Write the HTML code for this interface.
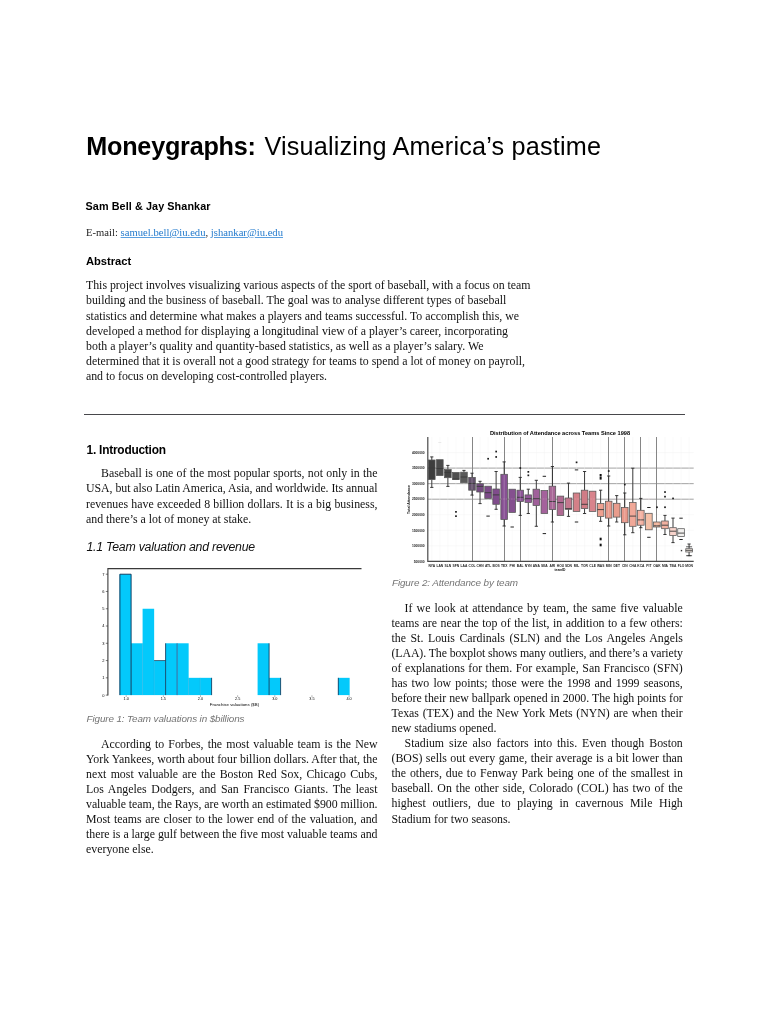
<!DOCTYPE html>
<html lang="en"><head><meta charset="utf-8"><title>Moneygraphs: Visualizing America’s pastime</title>
<style>
html,body{margin:0;padding:0;background:#fff;}
body{width:770px;height:1024px;position:relative;overflow:hidden;}
.t{position:absolute;white-space:nowrap;margin:0;padding:0;}
.s{font-family:"Liberation Serif",serif;}
.n{font-family:"Liberation Sans",sans-serif;}
.lk{color:#1f78cc;text-decoration:underline;text-decoration-color:#5a9fe0;text-decoration-thickness:1px;text-underline-offset:1.2px;}
#rule{position:absolute;left:84px;top:414px;width:601px;height:1px;background:#47474b;}
svg{position:absolute;left:0;top:0;}
svg text{font-family:"Liberation Sans",sans-serif;}
</style></head><body>
<div class="t n" style="left:86.30px;top:130px;font-size:25.2px;line-height:32px;color:#000;font-weight:bold;letter-spacing:-0.2310px;">Moneygraphs:</div>
<div class="t n" style="left:264.40px;top:130px;font-size:25.2px;line-height:32px;color:#000;letter-spacing:0.2050px;">Visualizing America’s pastime</div>
<div class="t n" style="left:85.50px;top:199px;font-size:10.8px;line-height:14px;color:#000;font-weight:bold;letter-spacing:0.0938px;">Sam Bell &amp; Jay Shankar</div>
<div class="t s" style="left:86.00px;top:226px;font-size:10.6px;line-height:14px;color:#222;letter-spacing:0.0227px;">E-mail: <span class="lk">samuel.bell@iu.edu</span>, <span class="lk">jshankar@iu.edu</span></div>
<div class="t n" style="left:86.00px;top:254px;font-size:11.2px;line-height:14px;color:#000;font-weight:bold;letter-spacing:-0.0272px;">Abstract</div>
<div class="t s" style="left:86.00px;top:278px;font-size:11.85px;line-height:15px;color:#111;letter-spacing:-0.0160px;">This project involves visualizing various aspects of the sport of baseball, with a focus on team</div>
<div class="t s" style="left:86.00px;top:293px;font-size:11.85px;line-height:15px;color:#111;letter-spacing:0.0006px;">building and the business of baseball. The goal was to analyse different types of baseball</div>
<div class="t s" style="left:86.00px;top:309px;font-size:11.85px;line-height:15px;color:#111;letter-spacing:0.0025px;">statistics and determine what makes a players and teams successful. To accomplish this, we</div>
<div class="t s" style="left:86.00px;top:324px;font-size:11.85px;line-height:15px;color:#111;letter-spacing:0.0009px;">developed a method for displaying a longitudinal view of a player’s career, incorporating</div>
<div class="t s" style="left:86.00px;top:339px;font-size:11.85px;line-height:15px;color:#111;letter-spacing:0.0258px;">both a player’s quality and quantity-based statistics, as well as a player’s salary. We</div>
<div class="t s" style="left:86.00px;top:354px;font-size:11.85px;line-height:15px;color:#111;letter-spacing:-0.0081px;">determined that it is overall not a good strategy for teams to spend a lot of money on payroll,</div>
<div class="t s" style="left:86.00px;top:369px;font-size:11.85px;line-height:15px;color:#111;letter-spacing:-0.0281px;">and to focus on developing cost-controlled players.</div>
<div class="t n" style="left:86.50px;top:443px;font-size:11.9px;line-height:15px;color:#000;font-weight:bold;letter-spacing:-0.2199px;">1. Introduction</div>
<div class="t s" style="left:101.00px;top:466px;font-size:11.85px;line-height:15px;color:#111;word-spacing:0.315px;">Baseball is one of the most popular sports, not only in the</div>
<div class="t s" style="left:86.00px;top:481px;font-size:11.85px;line-height:15px;color:#111;letter-spacing:-0.0379px;">USA, but also Latin America, Asia, and worldwide. Its annual</div>
<div class="t s" style="left:86.00px;top:497px;font-size:11.85px;line-height:15px;color:#111;word-spacing:0.272px;">revenues have exceeded 8 billion dollars. It is a big business,</div>
<div class="t s" style="left:86.00px;top:512px;font-size:11.85px;line-height:15px;color:#111;">and there’s a lot of money at stake.</div>
<div class="t n" style="left:86.50px;top:539px;font-size:12.3px;line-height:16px;color:#111;font-style:italic;letter-spacing:-0.2293px;">1.1 Team valuation and revenue</div>
<div class="t n" style="left:86.50px;top:712px;font-size:9.9px;line-height:13px;color:#747474;font-style:italic;letter-spacing:-0.1115px;">Figure 1: Team valuations in $billions</div>
<div class="t s" style="left:101.00px;top:737px;font-size:11.85px;line-height:15px;color:#111;word-spacing:1.120px;">According to Forbes, the most valuable team is the New</div>
<div class="t s" style="left:86.00px;top:752px;font-size:11.85px;line-height:15px;color:#111;word-spacing:0.028px;">York Yankees, worth about four billion dollars. After that, the</div>
<div class="t s" style="left:86.00px;top:767px;font-size:11.85px;line-height:15px;color:#111;word-spacing:1.285px;">next most valuable are the Boston Red Sox, Chicago Cubs,</div>
<div class="t s" style="left:86.00px;top:782px;font-size:11.85px;line-height:15px;color:#111;word-spacing:1.762px;">Los Angeles Dodgers, and San Francisco Giants. The least</div>
<div class="t s" style="left:86.00px;top:797px;font-size:11.85px;line-height:15px;color:#111;letter-spacing:-0.0315px;">valuable team, the Rays, are worth an estimated $900 million.</div>
<div class="t s" style="left:86.00px;top:812px;font-size:11.85px;line-height:15px;color:#111;word-spacing:0.726px;">Most teams are closer to the lower end of the valuation, and</div>
<div class="t s" style="left:86.00px;top:827px;font-size:11.85px;line-height:15px;color:#111;letter-spacing:-0.0108px;">there is a large gulf between the five most valuable teams and</div>
<div class="t s" style="left:86.00px;top:842px;font-size:11.85px;line-height:15px;color:#111;">everyone else.</div>
<div class="t n" style="left:392.00px;top:576px;font-size:9.9px;line-height:13px;color:#747474;font-style:italic;letter-spacing:-0.1181px;">Figure 2: Attendance by team</div>
<div class="t s" style="left:404.60px;top:601px;font-size:11.85px;line-height:15px;color:#111;word-spacing:1.150px;">If we look at attendance by team, the same five valuable</div>
<div class="t s" style="left:391.50px;top:616px;font-size:11.85px;line-height:15px;color:#111;word-spacing:0.498px;">teams are near the top of the list, in addition to a few others:</div>
<div class="t s" style="left:391.50px;top:631px;font-size:11.85px;line-height:15px;color:#111;word-spacing:1.591px;">the St. Louis Cardinals (SLN) and the Los Angeles Angels</div>
<div class="t s" style="left:391.50px;top:646px;font-size:11.85px;line-height:15px;color:#111;letter-spacing:-0.1026px;">(LAA). The boxplot shows many outliers, and there’s a variety</div>
<div class="t s" style="left:391.50px;top:661px;font-size:11.85px;line-height:15px;color:#111;word-spacing:0.559px;">of explanations for them. For example, San Francisco (SFN)</div>
<div class="t s" style="left:391.50px;top:676px;font-size:11.85px;line-height:15px;color:#111;word-spacing:1.202px;">has two low points; those were the 1998 and 1999 seasons,</div>
<div class="t s" style="left:391.50px;top:691px;font-size:11.85px;line-height:15px;color:#111;letter-spacing:-0.0148px;">before their new ballpark opened in 2000. The high points for</div>
<div class="t s" style="left:391.50px;top:706px;font-size:11.85px;line-height:15px;color:#111;word-spacing:0.763px;">Texas (TEX) and the New York Mets (NYN) are when their</div>
<div class="t s" style="left:391.50px;top:721px;font-size:11.85px;line-height:15px;color:#111;">new stadiums opened.</div>
<div class="t s" style="left:404.60px;top:736px;font-size:11.85px;line-height:15px;color:#111;word-spacing:2.002px;">Stadium size also factors into this. Even though Boston</div>
<div class="t s" style="left:391.50px;top:751px;font-size:11.85px;line-height:15px;color:#111;word-spacing:0.469px;">(BOS) sells out every game, their average is a bit lower than</div>
<div class="t s" style="left:391.50px;top:766px;font-size:11.85px;line-height:15px;color:#111;word-spacing:1.005px;">the others, due to Fenway Park being one of the smallest in</div>
<div class="t s" style="left:391.50px;top:781px;font-size:11.85px;line-height:15px;color:#111;word-spacing:1.105px;">baseball. On the other side, Colorado (COL) has two of the</div>
<div class="t s" style="left:391.50px;top:796px;font-size:11.85px;line-height:15px;color:#111;word-spacing:3.723px;">highest outliers, due to playing in cavernous Mile High</div>
<div class="t s" style="left:391.50px;top:812px;font-size:11.85px;line-height:15px;color:#111;">Stadium for two seasons.</div>
<div id="rule"></div>
<svg width="770" height="1024" viewBox="0 0 770 1024">
<g id="hist">
<rect x="119.60" y="574.21" width="11.55" height="120.89" fill="#03c9fb"/>
<rect x="131.10" y="643.29" width="11.55" height="51.81" fill="#03c9fb"/>
<rect x="142.60" y="608.75" width="11.55" height="86.35" fill="#03c9fb"/>
<rect x="154.10" y="660.56" width="11.55" height="34.54" fill="#03c9fb"/>
<rect x="165.60" y="643.29" width="11.55" height="51.81" fill="#03c9fb"/>
<rect x="177.10" y="643.29" width="11.55" height="51.81" fill="#03c9fb"/>
<rect x="188.60" y="677.83" width="11.55" height="17.27" fill="#03c9fb"/>
<rect x="200.10" y="677.83" width="11.55" height="17.27" fill="#03c9fb"/>
<rect x="257.60" y="643.29" width="11.55" height="51.81" fill="#03c9fb"/>
<rect x="269.10" y="677.83" width="11.55" height="17.27" fill="#03c9fb"/>
<rect x="338.10" y="677.83" width="11.55" height="17.27" fill="#03c9fb"/>
<path d="M142.60 643.29V695.1" stroke="#2a9fd0" stroke-width="0.5" opacity="0.7"/>
<path d="M154.10 660.56V695.1" stroke="#2a9fd0" stroke-width="0.5" opacity="0.7"/>
<path d="M188.60 677.83V695.1" stroke="#2a9fd0" stroke-width="0.5" opacity="0.7"/>
<path d="M200.10 677.83V695.1" stroke="#2a9fd0" stroke-width="0.5" opacity="0.7"/>
<path d="M119.90 695.1V574.21H131.10V695.1" fill="none" stroke="#0b2f52" stroke-width="0.9"/>
<path d="M154.10 660.56H165.60" stroke="#3a5a70" stroke-width="0.9"/>
<path d="M165.60 643.29V695.1" stroke="#0b2f52" stroke-width="0.8"/>
<path d="M177.10 643.29V695.1" stroke="#3f5f96" stroke-width="0.9"/>
<path d="M211.60 677.83V695.1" stroke="#0b2f52" stroke-width="0.8"/>
<path d="M269.10 643.29V695.1" stroke="#0b2f52" stroke-width="0.8"/>
<path d="M280.60 677.83V695.1" stroke="#0b2f52" stroke-width="0.8"/>
<path d="M338.30 677.83V695.1" stroke="#0b2f52" stroke-width="0.8"/>
<path d="M107.9 695.4V568.6H361.5" fill="none" stroke="#3a3a3a" stroke-width="1.1"/>
<path d="M105.8 695.10h2" stroke="#222" stroke-width="0.6"/>
<text x="104.4" y="696.50" font-size="4" text-anchor="end" fill="#000">0</text>
<path d="M105.8 677.83h2" stroke="#222" stroke-width="0.6"/>
<text x="104.4" y="679.23" font-size="4" text-anchor="end" fill="#000">1</text>
<path d="M105.8 660.56h2" stroke="#222" stroke-width="0.6"/>
<text x="104.4" y="661.96" font-size="4" text-anchor="end" fill="#000">2</text>
<path d="M105.8 643.29h2" stroke="#222" stroke-width="0.6"/>
<text x="104.4" y="644.69" font-size="4" text-anchor="end" fill="#000">3</text>
<path d="M105.8 626.02h2" stroke="#222" stroke-width="0.6"/>
<text x="104.4" y="627.42" font-size="4" text-anchor="end" fill="#000">4</text>
<path d="M105.8 608.75h2" stroke="#222" stroke-width="0.6"/>
<text x="104.4" y="610.15" font-size="4" text-anchor="end" fill="#000">5</text>
<path d="M105.8 591.48h2" stroke="#222" stroke-width="0.6"/>
<text x="104.4" y="592.88" font-size="4" text-anchor="end" fill="#000">6</text>
<path d="M105.8 574.21h2" stroke="#222" stroke-width="0.6"/>
<text x="104.4" y="575.61" font-size="4" text-anchor="end" fill="#000">7</text>
<path d="M126.20 695.4v1.4" stroke="#444" stroke-width="0.5"/>
<text x="126.20" y="700.4" font-size="3.8" text-anchor="middle" fill="#000">1.0</text>
<path d="M163.35 695.4v1.4" stroke="#444" stroke-width="0.5"/>
<text x="163.35" y="700.4" font-size="3.8" text-anchor="middle" fill="#000">1.5</text>
<path d="M200.50 695.4v1.4" stroke="#444" stroke-width="0.5"/>
<text x="200.50" y="700.4" font-size="3.8" text-anchor="middle" fill="#000">2.0</text>
<path d="M237.65 695.4v1.4" stroke="#444" stroke-width="0.5"/>
<text x="237.65" y="700.4" font-size="3.8" text-anchor="middle" fill="#000">2.5</text>
<path d="M274.80 695.4v1.4" stroke="#444" stroke-width="0.5"/>
<text x="274.80" y="700.4" font-size="3.8" text-anchor="middle" fill="#000">3.0</text>
<path d="M311.95 695.4v1.4" stroke="#444" stroke-width="0.5"/>
<text x="311.95" y="700.4" font-size="3.8" text-anchor="middle" fill="#000">3.5</text>
<path d="M349.10 695.4v1.4" stroke="#444" stroke-width="0.5"/>
<text x="349.10" y="700.4" font-size="3.8" text-anchor="middle" fill="#000">4.0</text>
<text x="234.5" y="706.3" font-size="4.35" text-anchor="middle" fill="#000">Franchise valuations ($B)</text>
</g>
<g id="boxp">
<path d="M427.8 545.85H693.7" stroke="#f0f0f0" stroke-width="0.4"/>
<path d="M427.8 530.30H693.7" stroke="#f0f0f0" stroke-width="0.4"/>
<path d="M427.8 514.75H693.7" stroke="#f0f0f0" stroke-width="0.4"/>
<path d="M427.8 499.20H693.7" stroke="#999" stroke-width="0.9"/>
<path d="M427.8 483.65H693.7" stroke="#999" stroke-width="0.9"/>
<path d="M427.8 468.10H693.7" stroke="#999" stroke-width="0.9"/>
<path d="M427.8 452.55H693.7" stroke="#f0f0f0" stroke-width="0.4"/>
<path d="M431.80 437.0V561.4" stroke="#f3f3f3" stroke-width="0.4"/>
<path d="M439.84 437.0V561.4" stroke="#f3f3f3" stroke-width="0.4"/>
<path d="M447.88 437.0V561.4" stroke="#f3f3f3" stroke-width="0.4"/>
<path d="M455.92 437.0V561.4" stroke="#f3f3f3" stroke-width="0.4"/>
<path d="M463.96 437.0V561.4" stroke="#f3f3f3" stroke-width="0.4"/>
<path d="M472.5 437.0V561.4" stroke="#868686" stroke-width="1"/>
<path d="M480.04 437.0V561.4" stroke="#f3f3f3" stroke-width="0.4"/>
<path d="M488.08 437.0V561.4" stroke="#f3f3f3" stroke-width="0.4"/>
<path d="M496.12 437.0V561.4" stroke="#f3f3f3" stroke-width="0.4"/>
<path d="M504.5 437.0V561.4" stroke="#868686" stroke-width="1"/>
<path d="M512.20 437.0V561.4" stroke="#f3f3f3" stroke-width="0.4"/>
<path d="M520.5 437.0V561.4" stroke="#868686" stroke-width="1"/>
<path d="M528.28 437.0V561.4" stroke="#f3f3f3" stroke-width="0.4"/>
<path d="M536.32 437.0V561.4" stroke="#f3f3f3" stroke-width="0.4"/>
<path d="M544.36 437.0V561.4" stroke="#f3f3f3" stroke-width="0.4"/>
<path d="M552.5 437.0V561.4" stroke="#868686" stroke-width="1"/>
<path d="M560.44 437.0V561.4" stroke="#f3f3f3" stroke-width="0.4"/>
<path d="M568.48 437.0V561.4" stroke="#f3f3f3" stroke-width="0.4"/>
<path d="M576.52 437.0V561.4" stroke="#f3f3f3" stroke-width="0.4"/>
<path d="M584.56 437.0V561.4" stroke="#f3f3f3" stroke-width="0.4"/>
<path d="M592.60 437.0V561.4" stroke="#f3f3f3" stroke-width="0.4"/>
<path d="M600.64 437.0V561.4" stroke="#f3f3f3" stroke-width="0.4"/>
<path d="M608.5 437.0V561.4" stroke="#868686" stroke-width="1"/>
<path d="M616.72 437.0V561.4" stroke="#f3f3f3" stroke-width="0.4"/>
<path d="M624.5 437.0V561.4" stroke="#868686" stroke-width="1"/>
<path d="M632.80 437.0V561.4" stroke="#f3f3f3" stroke-width="0.4"/>
<path d="M640.5 437.0V561.4" stroke="#868686" stroke-width="1"/>
<path d="M648.88 437.0V561.4" stroke="#f3f3f3" stroke-width="0.4"/>
<path d="M656.5 437.0V561.4" stroke="#868686" stroke-width="1"/>
<path d="M664.96 437.0V561.4" stroke="#f3f3f3" stroke-width="0.4"/>
<path d="M673.00 437.0V561.4" stroke="#f3f3f3" stroke-width="0.4"/>
<path d="M681.04 437.0V561.4" stroke="#f3f3f3" stroke-width="0.4"/>
<path d="M689.08 437.0V561.4" stroke="#f3f3f3" stroke-width="0.4"/>
<path d="M431.80 456.9V460.0M430.20 456.9h3.2" stroke="#262626" stroke-width="0.9" fill="none"/>
<path d="M431.80 479.6V487.4M430.20 487.4h3.2" stroke="#262626" stroke-width="0.9" fill="none"/>
<rect x="428.50" y="460.0" width="6.6" height="19.60" fill="#3d3d3d" stroke="#565656" stroke-width="0.75"/>
<path d="M428.50 468.0h6.6" stroke="#3a3a3a" stroke-width="0.9"/>
<rect x="436.54" y="459.7" width="6.6" height="15.90" fill="#4a4a4a" stroke="#565656" stroke-width="0.75"/>
<path d="M436.54 468.5h6.6" stroke="#3a3a3a" stroke-width="0.9"/>
<path d="M438.34 442.5h3" stroke="#ddd" stroke-width="0.6"/>
<path d="M447.88 465.4V469.6M446.28 465.4h3.2" stroke="#262626" stroke-width="0.9" fill="none"/>
<path d="M447.88 477.7V486.4M446.28 486.4h3.2" stroke="#262626" stroke-width="0.9" fill="none"/>
<rect x="444.58" y="469.6" width="6.6" height="8.10" fill="#454545" stroke="#565656" stroke-width="0.75"/>
<path d="M444.58 472.5h6.6" stroke="#3a3a3a" stroke-width="0.9"/>
<rect x="452.62" y="472.5" width="6.6" height="7.10" fill="#505050" stroke="#565656" stroke-width="0.75"/>
<path d="M452.62 479.0h6.6" stroke="#3a3a3a" stroke-width="0.9"/>
<rect x="455.12" y="511.0" width="1.7" height="1.7" fill="#1a1a1a"/>
<rect x="455.12" y="515.3000000000001" width="1.7" height="1.7" fill="#1a1a1a"/>
<path d="M463.96 470.4V472.2M462.36 470.4h3.2" stroke="#262626" stroke-width="0.9" fill="none"/>
<rect x="460.66" y="472.2" width="6.6" height="10.50" fill="#5a5a5a" stroke="#565656" stroke-width="0.75"/>
<path d="M460.66 477.0h6.6" stroke="#3a3a3a" stroke-width="0.9"/>
<path d="M472.00 473.2V477.4M470.40 473.2h3.2" stroke="#262626" stroke-width="0.9" fill="none"/>
<path d="M472.00 490.2V495.1M470.40 495.1h3.2" stroke="#262626" stroke-width="0.9" fill="none"/>
<rect x="468.70" y="477.4" width="6.6" height="12.80" fill="#62506a" stroke="#565656" stroke-width="0.75"/>
<path d="M468.70 483.5h6.6" stroke="#3a3a3a" stroke-width="0.9"/>
<path d="M472.00 477.9V489.7" stroke="#fff" stroke-opacity="0.32" stroke-width="0.7"/>
<path d="M480.04 481.3V483.8M478.44 481.3h3.2" stroke="#262626" stroke-width="0.9" fill="none"/>
<path d="M480.04 492.0V503.6M478.44 503.6h3.2" stroke="#262626" stroke-width="0.9" fill="none"/>
<rect x="476.74" y="483.8" width="6.6" height="8.20" fill="#744a80" stroke="#565656" stroke-width="0.75"/>
<path d="M476.74 486.4h6.6" stroke="#3a3a3a" stroke-width="0.9"/>
<rect x="484.78" y="486.2" width="6.6" height="12.20" fill="#7c4a88" stroke="#565656" stroke-width="0.75"/>
<path d="M484.78 492.7h6.6" stroke="#3a3a3a" stroke-width="0.9"/>
<rect x="487.28" y="457.9" width="1.7" height="1.7" fill="#1a1a1a"/>
<path d="M486.38 516.1h3.4" stroke="#222" stroke-width="1"/>
<path d="M496.12 471.5V489.0M494.52 471.5h3.2" stroke="#262626" stroke-width="0.9" fill="none"/>
<path d="M496.12 504.3V509.3M494.52 509.3h3.2" stroke="#262626" stroke-width="0.9" fill="none"/>
<rect x="492.82" y="489.0" width="6.6" height="15.30" fill="#804c8c" stroke="#565656" stroke-width="0.75"/>
<path d="M492.82 494.9h6.6" stroke="#3a3a3a" stroke-width="0.9"/>
<rect x="495.32" y="450.7" width="1.7" height="1.7" fill="#1a1a1a"/>
<rect x="495.32" y="456.09999999999997" width="1.7" height="1.7" fill="#1a1a1a"/>
<path d="M504.16 461.9V474.3M502.56 461.9h3.2" stroke="#262626" stroke-width="0.9" fill="none"/>
<path d="M504.16 519.5V526.0M502.56 526.0h3.2" stroke="#262626" stroke-width="0.9" fill="none"/>
<rect x="500.86" y="474.3" width="6.6" height="45.20" fill="#875093" stroke="#565656" stroke-width="0.75"/>
<path d="M501.26 499h5.8" stroke="#f0c8d8" stroke-opacity="0.55" stroke-width="0.6" stroke-dasharray="0.8 0.8"/>
<path d="M504.16 474.8V519.0" stroke="#fff" stroke-opacity="0.32" stroke-width="0.7"/>
<rect x="508.90" y="489.2" width="6.6" height="23.20" fill="#85508f" stroke="#565656" stroke-width="0.75"/>
<path d="M509.30 499h5.8" stroke="#f0c8d8" stroke-opacity="0.55" stroke-width="0.6" stroke-dasharray="0.8 0.8"/>
<path d="M510.50 527.0h3.4" stroke="#222" stroke-width="1"/>
<path d="M520.24 477.4V490.2M518.64 477.4h3.2" stroke="#262626" stroke-width="0.9" fill="none"/>
<path d="M520.24 501.5V515.4M518.64 515.4h3.2" stroke="#262626" stroke-width="0.9" fill="none"/>
<rect x="516.94" y="490.2" width="6.6" height="11.30" fill="#8c5496" stroke="#565656" stroke-width="0.75"/>
<path d="M516.94 497.3h6.6" stroke="#3a3a3a" stroke-width="0.9"/>
<path d="M520.24 490.7V501.0" stroke="#fff" stroke-opacity="0.32" stroke-width="0.7"/>
<rect x="519.44" y="467.2" width="1.7" height="1.7" fill="#1a1a1a"/>
<path d="M528.28 489.2V494.9M526.68 489.2h3.2" stroke="#262626" stroke-width="0.9" fill="none"/>
<path d="M528.28 502.5V513.5M526.68 513.5h3.2" stroke="#262626" stroke-width="0.9" fill="none"/>
<rect x="524.98" y="494.9" width="6.6" height="7.60" fill="#94589a" stroke="#565656" stroke-width="0.75"/>
<path d="M524.98 498.7h6.6" stroke="#3a3a3a" stroke-width="0.9"/>
<rect x="527.48" y="471.0" width="1.7" height="1.7" fill="#1a1a1a"/>
<rect x="527.48" y="474.5" width="1.7" height="1.7" fill="#1a1a1a"/>
<path d="M536.32 480.3V489.2M534.72 480.3h3.2" stroke="#262626" stroke-width="0.9" fill="none"/>
<path d="M536.32 505.5V526.3M534.72 526.3h3.2" stroke="#262626" stroke-width="0.9" fill="none"/>
<rect x="533.02" y="489.2" width="6.6" height="16.30" fill="#a0609a" stroke="#565656" stroke-width="0.75"/>
<path d="M533.02 498.7h6.6" stroke="#3a3a3a" stroke-width="0.9"/>
<rect x="541.06" y="490.6" width="6.6" height="22.90" fill="#a4629c" stroke="#565656" stroke-width="0.75"/>
<path d="M541.46 499h5.8" stroke="#f0c8d8" stroke-opacity="0.55" stroke-width="0.6" stroke-dasharray="0.8 0.8"/>
<path d="M542.66 476.3h3.4" stroke="#222" stroke-width="1"/>
<path d="M542.66 533.6h3.4" stroke="#222" stroke-width="1"/>
<path d="M552.40 466.5V486.2M550.80 466.5h3.2" stroke="#262626" stroke-width="0.9" fill="none"/>
<path d="M552.40 509.6V522.0M550.80 522.0h3.2" stroke="#262626" stroke-width="0.9" fill="none"/>
<rect x="549.10" y="486.2" width="6.6" height="23.40" fill="#a86696" stroke="#565656" stroke-width="0.75"/>
<path d="M549.10 501.5h6.6" stroke="#3a3a3a" stroke-width="0.9"/>
<path d="M552.40 486.7V509.1" stroke="#fff" stroke-opacity="0.32" stroke-width="0.7"/>
<rect x="557.14" y="496.1" width="6.6" height="19.30" fill="#b06a92" stroke="#565656" stroke-width="0.75"/>
<path d="M557.14 502.6h6.6" stroke="#3a3a3a" stroke-width="0.9"/>
<path d="M568.48 483.1V498.0M566.88 483.1h3.2" stroke="#262626" stroke-width="0.9" fill="none"/>
<path d="M568.48 509.3V516.4M566.88 516.4h3.2" stroke="#262626" stroke-width="0.9" fill="none"/>
<rect x="565.18" y="498.0" width="6.6" height="11.30" fill="#c4788e" stroke="#565656" stroke-width="0.75"/>
<path d="M565.18 508.6h6.6" stroke="#3a3a3a" stroke-width="0.9"/>
<rect x="573.22" y="493.0" width="6.6" height="18.40" fill="#d48088" stroke="#565656" stroke-width="0.75"/>
<path d="M573.62 499h5.8" stroke="#f0c8d8" stroke-opacity="0.55" stroke-width="0.6" stroke-dasharray="0.8 0.8"/>
<rect x="575.72" y="461.5" width="1.7" height="1.7" fill="#1a1a1a"/>
<path d="M574.82 469.9h3.4" stroke="#222" stroke-width="1"/>
<path d="M574.82 522.0h3.4" stroke="#222" stroke-width="1"/>
<path d="M584.56 471.5V490.2M582.96 471.5h3.2" stroke="#262626" stroke-width="0.9" fill="none"/>
<path d="M584.56 508.6V513.5M582.96 513.5h3.2" stroke="#262626" stroke-width="0.9" fill="none"/>
<rect x="581.26" y="490.2" width="6.6" height="18.40" fill="#d07c86" stroke="#565656" stroke-width="0.75"/>
<path d="M581.26 504.3h6.6" stroke="#3a3a3a" stroke-width="0.9"/>
<rect x="589.30" y="491.2" width="6.6" height="20.20" fill="#d8848c" stroke="#565656" stroke-width="0.75"/>
<path d="M589.70 499h5.8" stroke="#f0c8d8" stroke-opacity="0.55" stroke-width="0.6" stroke-dasharray="0.8 0.8"/>
<path d="M600.64 490.2V503.6M599.04 490.2h3.2" stroke="#262626" stroke-width="0.9" fill="none"/>
<path d="M600.64 516.4V521.3M599.04 521.3h3.2" stroke="#262626" stroke-width="0.9" fill="none"/>
<rect x="597.34" y="503.6" width="6.6" height="12.80" fill="#eea090" stroke="#565656" stroke-width="0.75"/>
<path d="M597.34 509.6h6.6" stroke="#3a3a3a" stroke-width="0.9"/>
<rect x="599.64" y="474.0" width="2" height="2.6" fill="#111"/>
<rect x="599.64" y="477.0" width="2" height="2.6" fill="#111"/>
<rect x="599.64" y="537.7" width="2" height="2.6" fill="#111"/>
<rect x="599.64" y="543.7" width="2" height="2.6" fill="#111"/>
<path d="M608.68 476.0V501.2M607.08 476.0h3.2" stroke="#262626" stroke-width="0.9" fill="none"/>
<path d="M608.68 518.1V526.0M607.08 526.0h3.2" stroke="#262626" stroke-width="0.9" fill="none"/>
<rect x="605.38" y="501.2" width="6.6" height="16.90" fill="#e8988a" stroke="#565656" stroke-width="0.75"/>
<path d="M605.78 499h5.8" stroke="#f0c8d8" stroke-opacity="0.55" stroke-width="0.6" stroke-dasharray="0.8 0.8"/>
<path d="M608.68 501.7V517.6" stroke="#fff" stroke-opacity="0.32" stroke-width="0.7"/>
<rect x="607.88" y="470.2" width="1.7" height="1.7" fill="#1a1a1a"/>
<path d="M616.72 495.6V503.3M615.12 495.6h3.2" stroke="#262626" stroke-width="0.9" fill="none"/>
<path d="M616.72 517.1V522.0M615.12 522.0h3.2" stroke="#262626" stroke-width="0.9" fill="none"/>
<rect x="613.42" y="503.3" width="6.6" height="13.80" fill="#e89c8c" stroke="#565656" stroke-width="0.75"/>
<path d="M613.82 499h5.8" stroke="#f0c8d8" stroke-opacity="0.55" stroke-width="0.6" stroke-dasharray="0.8 0.8"/>
<path d="M624.76 493.0V507.5M623.16 493.0h3.2" stroke="#262626" stroke-width="0.9" fill="none"/>
<path d="M624.76 522.7V534.8M623.16 534.8h3.2" stroke="#262626" stroke-width="0.9" fill="none"/>
<rect x="621.46" y="507.5" width="6.6" height="15.20" fill="#e8988a" stroke="#565656" stroke-width="0.75"/>
<path d="M621.86 499h5.8" stroke="#f0c8d8" stroke-opacity="0.55" stroke-width="0.6" stroke-dasharray="0.8 0.8"/>
<path d="M624.76 508.0V522.2" stroke="#fff" stroke-opacity="0.32" stroke-width="0.7"/>
<rect x="623.96" y="483.7" width="1.7" height="1.7" fill="#1a1a1a"/>
<path d="M632.80 468.2V502.6M631.20 468.2h3.2" stroke="#262626" stroke-width="0.9" fill="none"/>
<path d="M632.80 526.3V532.7M631.20 532.7h3.2" stroke="#262626" stroke-width="0.9" fill="none"/>
<rect x="629.50" y="502.6" width="6.6" height="23.70" fill="#f0a898" stroke="#565656" stroke-width="0.75"/>
<path d="M629.50 516.1h6.6" stroke="#3a3a3a" stroke-width="0.9"/>
<path d="M640.84 498.4V510.3M639.24 498.4h3.2" stroke="#262626" stroke-width="0.9" fill="none"/>
<path d="M640.84 525.2V527.7M639.24 527.7h3.2" stroke="#262626" stroke-width="0.9" fill="none"/>
<rect x="637.54" y="510.3" width="6.6" height="14.90" fill="#f4b0a0" stroke="#565656" stroke-width="0.75"/>
<path d="M637.54 519.9h6.6" stroke="#3a3a3a" stroke-width="0.9"/>
<path d="M640.84 510.8V524.7" stroke="#fff" stroke-opacity="0.32" stroke-width="0.7"/>
<rect x="645.58" y="513.3" width="6.6" height="16.50" fill="#f4c0a8" stroke="#565656" stroke-width="0.75"/>
<path d="M645.98 499h5.8" stroke="#f0c8d8" stroke-opacity="0.55" stroke-width="0.6" stroke-dasharray="0.8 0.8"/>
<path d="M647.18 507.5h3.4" stroke="#222" stroke-width="1"/>
<path d="M647.18 537.3h3.4" stroke="#222" stroke-width="1"/>
<rect x="653.62" y="522.0" width="6.6" height="5.00" fill="#f0b49c" stroke="#565656" stroke-width="0.75"/>
<path d="M653.62 525.8h6.6" stroke="#3a3a3a" stroke-width="0.9"/>
<path d="M656.92 522.5V526.5" stroke="#fff" stroke-opacity="0.32" stroke-width="0.7"/>
<rect x="656.12" y="506.4" width="1.7" height="1.7" fill="#1a1a1a"/>
<path d="M664.96 515.4V521.0M663.36 515.4h3.2" stroke="#262626" stroke-width="0.9" fill="none"/>
<path d="M664.96 528.7V534.5M663.36 534.5h3.2" stroke="#262626" stroke-width="0.9" fill="none"/>
<rect x="661.66" y="521.0" width="6.6" height="7.70" fill="#f0b0a0" stroke="#565656" stroke-width="0.75"/>
<path d="M661.66 525.2h6.6" stroke="#3a3a3a" stroke-width="0.9"/>
<rect x="664.16" y="491.2" width="1.7" height="1.7" fill="#1a1a1a"/>
<rect x="664.16" y="495.8" width="1.7" height="1.7" fill="#1a1a1a"/>
<rect x="664.16" y="506.4" width="1.7" height="1.7" fill="#1a1a1a"/>
<path d="M673.00 518.1V527.7M671.40 518.1h3.2" stroke="#262626" stroke-width="0.9" fill="none"/>
<path d="M673.00 535.5V542.6M671.40 542.6h3.2" stroke="#262626" stroke-width="0.9" fill="none"/>
<rect x="669.70" y="527.7" width="6.6" height="7.80" fill="#f8d4cc" stroke="#565656" stroke-width="0.75"/>
<path d="M669.70 531.2h6.6" stroke="#3a3a3a" stroke-width="0.9"/>
<rect x="672.20" y="497.59999999999997" width="1.7" height="1.7" fill="#1a1a1a"/>
<rect x="677.74" y="528.7" width="6.6" height="7.80" fill="#f2f0ee" stroke="#565656" stroke-width="0.75"/>
<path d="M677.74 533.1h6.6" stroke="#3a3a3a" stroke-width="0.9"/>
<path d="M679.34 518.2h3.4" stroke="#222" stroke-width="1"/>
<path d="M679.34 539.5h3.4" stroke="#222" stroke-width="1"/>
<path d="M689.08 544.0V548.7M687.48 544.0h3.2" stroke="#262626" stroke-width="0.9" fill="none"/>
<path d="M689.08 552.0V555.7M687.48 555.7h3.2" stroke="#262626" stroke-width="0.9" fill="none"/>
<rect x="685.78" y="548.7" width="6.6" height="3.30" fill="#f6ece4" stroke="#565656" stroke-width="0.75"/>
<path d="M685.78 550.3h6.6" stroke="#3a3a3a" stroke-width="0.9"/>
<rect x="680.8" y="549.9" width="1.4" height="1.4" fill="#333"/>
<path d="M686.08 546.8h6M686.08 555.7h6" stroke="#333" stroke-width="0.8"/>
<path d="M427.8 437.0V561.4H693.7" fill="none" stroke="#4a4a4a" stroke-width="1.2"/>
<text x="560" y="435" font-size="5.65" font-weight="bold" text-anchor="middle" fill="#000">Distribution of Attendance across Teams Since 1998</text>
<text x="424.6" y="562.60" font-size="3.25" font-weight="bold" text-anchor="end" fill="#222">500000</text>
<text x="424.6" y="547.05" font-size="3.25" font-weight="bold" text-anchor="end" fill="#222">1000000</text>
<text x="424.6" y="531.50" font-size="3.25" font-weight="bold" text-anchor="end" fill="#222">1500000</text>
<text x="424.6" y="515.95" font-size="3.25" font-weight="bold" text-anchor="end" fill="#222">2000000</text>
<text x="424.6" y="500.40" font-size="3.25" font-weight="bold" text-anchor="end" fill="#222">2500000</text>
<text x="424.6" y="484.85" font-size="3.25" font-weight="bold" text-anchor="end" fill="#222">3000000</text>
<text x="424.6" y="469.30" font-size="3.25" font-weight="bold" text-anchor="end" fill="#222">3500000</text>
<text x="424.6" y="453.75" font-size="3.25" font-weight="bold" text-anchor="end" fill="#222">4000000</text>
<text x="431.80" y="566.8" font-size="3.3" font-weight="bold" text-anchor="middle" fill="#222">NYA</text>
<text x="439.84" y="566.8" font-size="3.3" font-weight="bold" text-anchor="middle" fill="#222">LAN</text>
<text x="447.88" y="566.8" font-size="3.3" font-weight="bold" text-anchor="middle" fill="#222">SLN</text>
<text x="455.92" y="566.8" font-size="3.3" font-weight="bold" text-anchor="middle" fill="#222">SFN</text>
<text x="463.96" y="566.8" font-size="3.3" font-weight="bold" text-anchor="middle" fill="#222">LAA</text>
<text x="472.00" y="566.8" font-size="3.3" font-weight="bold" text-anchor="middle" fill="#222">COL</text>
<text x="480.04" y="566.8" font-size="3.3" font-weight="bold" text-anchor="middle" fill="#222">CHN</text>
<text x="488.08" y="566.8" font-size="3.3" font-weight="bold" text-anchor="middle" fill="#222">ATL</text>
<text x="496.12" y="566.8" font-size="3.3" font-weight="bold" text-anchor="middle" fill="#222">BOS</text>
<text x="504.16" y="566.8" font-size="3.3" font-weight="bold" text-anchor="middle" fill="#222">TEX</text>
<text x="512.20" y="566.8" font-size="3.3" font-weight="bold" text-anchor="middle" fill="#222">PHI</text>
<text x="520.24" y="566.8" font-size="3.3" font-weight="bold" text-anchor="middle" fill="#222">BAL</text>
<text x="528.28" y="566.8" font-size="3.3" font-weight="bold" text-anchor="middle" fill="#222">NYN</text>
<text x="536.32" y="566.8" font-size="3.3" font-weight="bold" text-anchor="middle" fill="#222">ANA</text>
<text x="544.36" y="566.8" font-size="3.3" font-weight="bold" text-anchor="middle" fill="#222">SEA</text>
<text x="552.40" y="566.8" font-size="3.3" font-weight="bold" text-anchor="middle" fill="#222">ARI</text>
<text x="560.44" y="566.8" font-size="3.3" font-weight="bold" text-anchor="middle" fill="#222">HOU</text>
<text x="568.48" y="566.8" font-size="3.3" font-weight="bold" text-anchor="middle" fill="#222">SDN</text>
<text x="576.52" y="566.8" font-size="3.3" font-weight="bold" text-anchor="middle" fill="#222">MIL</text>
<text x="584.56" y="566.8" font-size="3.3" font-weight="bold" text-anchor="middle" fill="#222">TOR</text>
<text x="592.60" y="566.8" font-size="3.3" font-weight="bold" text-anchor="middle" fill="#222">CLE</text>
<text x="600.64" y="566.8" font-size="3.3" font-weight="bold" text-anchor="middle" fill="#222">WAS</text>
<text x="608.68" y="566.8" font-size="3.3" font-weight="bold" text-anchor="middle" fill="#222">MIN</text>
<text x="616.72" y="566.8" font-size="3.3" font-weight="bold" text-anchor="middle" fill="#222">DET</text>
<text x="624.76" y="566.8" font-size="3.3" font-weight="bold" text-anchor="middle" fill="#222">CIN</text>
<text x="632.80" y="566.8" font-size="3.3" font-weight="bold" text-anchor="middle" fill="#222">CHA</text>
<text x="640.84" y="566.8" font-size="3.3" font-weight="bold" text-anchor="middle" fill="#222">KCA</text>
<text x="648.88" y="566.8" font-size="3.3" font-weight="bold" text-anchor="middle" fill="#222">PIT</text>
<text x="656.92" y="566.8" font-size="3.3" font-weight="bold" text-anchor="middle" fill="#222">OAK</text>
<text x="664.96" y="566.8" font-size="3.3" font-weight="bold" text-anchor="middle" fill="#222">MIA</text>
<text x="673.00" y="566.8" font-size="3.3" font-weight="bold" text-anchor="middle" fill="#222">TBA</text>
<text x="681.04" y="566.8" font-size="3.3" font-weight="bold" text-anchor="middle" fill="#222">FLO</text>
<text x="689.08" y="566.8" font-size="3.3" font-weight="bold" text-anchor="middle" fill="#222">MON</text>
<text x="560" y="571.2" font-size="3.3" font-weight="bold" text-anchor="middle" fill="#111">teamID</text>
<text transform="translate(409.6 499.5) rotate(-90)" font-size="3.6" font-weight="bold" text-anchor="middle" fill="#111">Total Attendance</text>
</g>
</svg>
</body></html>
